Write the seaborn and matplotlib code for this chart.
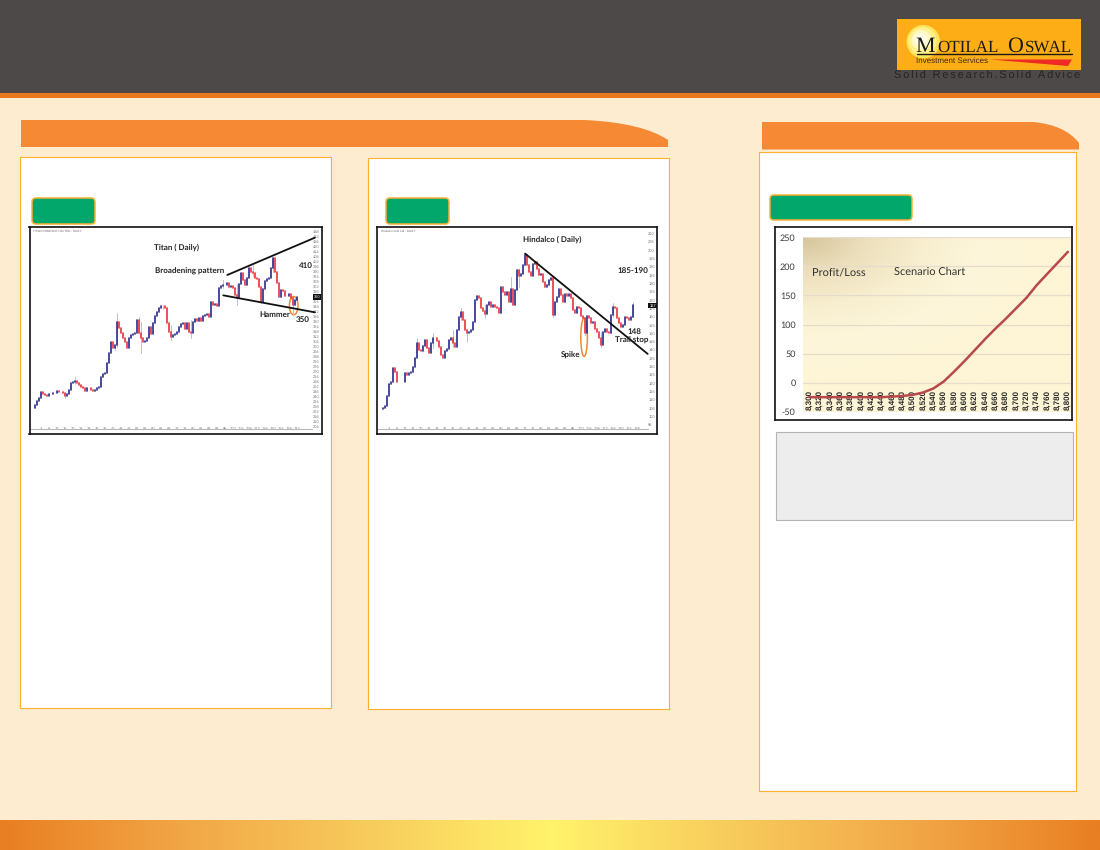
import numpy as np
import pandas as pd
import matplotlib
matplotlib.use("Agg")
import matplotlib.pyplot as plt
from matplotlib.colors import LinearSegmentedColormap
from matplotlib.patches import Rectangle, FancyBboxPatch, Ellipse, Circle, Polygon, PathPatch
from matplotlib.path import Path
import seaborn as sns

# Titan daily closes
titan_close = [226, 230, 235, 238, 246, 243, 242, 241, 243, 243, 244, 245, 247, 246, 246, 245, 241, 243, 248, 257,
               258, 259, 257, 254, 252, 250, 247, 250, 251, 248, 247, 248, 250, 252, 264, 267, 269, 280, 292, 306,
               299, 302, 330, 322, 316, 311, 306, 299, 310, 314, 315, 316, 332, 316, 310, 306, 307, 310, 324, 315,
               328, 337, 342, 347, 349, 349, 346, 328, 318, 312, 314, 315, 318, 324, 327, 328, 321, 329, 318, 316,
               330, 333, 331, 334, 331, 337, 338, 339, 336, 354, 350, 351, 349, 370, 373, 374, 374, 376, 372, 373,
               370, 362, 358, 375, 388, 380, 374, 382, 394, 390, 388, 383, 381, 372, 354, 369, 379, 381, 383, 394,
               406, 390, 376, 360, 368, 367, 361, 361, 363, 358, 350, 356, 360]
titan_wick_bar = [16, 21, 41, 42, 53, 54, 65, 69, 79, 95, 102, 110, 114, 120, 130]
titan_wick_high = [245, 264, 302, 341, 336, 330, 350, 326, 332, 380, 375, 398, 370, 408, 360]
titan_wick_low = [238, 255, 296, 300, 316, 292, 345, 308, 310, 370, 350, 385, 352, 390, 338]
titan_upper = ([97, 140.8], [386, 430.8])
titan_lower = ([95, 140.8], [361.6, 341.2])

# Hindalco daily closes
hindalco_close = [104.4, 105, 106, 112, 119.6, 121, 129, 127, 121, 120.4, 120.4, 121, 126, 125, 126.4, 127, 130, 135,
                  144, 140, 139.4, 142.4, 146, 141, 138, 144, 147, 147, 145.6, 142, 137, 135, 139.6, 140.4, 146, 147,
                  144.4, 142, 152, 160, 163, 158, 152, 150.4, 151, 152, 157, 170, 172.4, 171, 165, 163.6, 161.6, 167,
                  169, 166, 167, 166, 165, 162.4, 178, 175, 173, 175, 169, 176.4, 167, 176, 188, 184.4, 186, 191, 197,
                  191, 187, 184.4, 191.6, 193, 189, 185, 186, 181, 178, 179, 182, 183.6, 161, 169, 172, 176.4, 173,
                  169, 173.6, 172.4, 173.6, 171, 164, 162, 166, 165, 160.4, 159, 150, 160.4, 159, 156, 157, 152.4,
                  151, 147, 143, 151, 152.4, 151, 150, 161, 165.6, 165, 159, 156.4, 154, 155, 159.6, 159, 158, 159.6,
                  167]
hindalco_wick_bar = [18, 26, 36, 40, 43, 52, 65, 69, 72, 86, 102, 110, 116, 126]
hindalco_wick_high = [147, 150, 152, 165, 152, 167, 184, 189, 198, 172, 160, 151, 168, 169]
hindalco_wick_low = [138, 141, 142, 158, 145, 159, 169, 178, 191, 160, 149, 142, 160, 160]
hindalco_trail = ([72.2, 133.5], [198, 137.6])

# Profit/Loss scenario
spot_levels = list(range(8300, 8801, 20))
payoff = [-25, -25, -25, -25, -25, -25, -25, -25, -24, -23, -21, -17, -10,
          2, 19, 37, 56, 75, 93, 110, 128, 146, 168, 187, 206, 225]
payoff_ticks = [-50, 0, 50, 100, 150, 200, 250]

FIG_W, FIG_H = 1100, 850
CREAM = "#feecd0"
AMBER = "#fbb034"
HEAD = "#f68933"
GREEN = "#02a76b"

sns.set_theme(style="white")
plt.rcParams["font.family"] = ["Liberation Sans", "DejaVu Sans"]
plt.rcParams["text.hinting"] = "no_hinting"
plt.rcParams["text.hinting_factor"] = 1

fig = plt.figure(figsize=(11, 8.5), dpi=100, facecolor=CREAM)


def px_axes(left, top, right, bottom, **kw):
    return fig.add_axes([left / FIG_W, 1 - bottom / FIG_H, (right - left) / FIG_W, (bottom - top) / FIG_H], **kw)


bg = px_axes(0, 0, FIG_W, FIG_H)
bg.set_xlim(0, FIG_W)
bg.set_ylim(FIG_H, 0)
bg.axis("off")


def box(ax, x0, y0, x1, y1, **kw):
    ax.add_patch(Rectangle((x0, y0), x1 - x0, y1 - y0, **kw))


# top band
box(bg, 0, 0, FIG_W, 93, fc="#4d4948", ec="none")
box(bg, 0, 93, FIG_W, 98, fc="#e87a1d", ec="none")

# bottom band
band = LinearSegmentedColormap.from_list("band", ["#e87f22", "#f1a747", "#f7cb5c", "#fff36b", "#f7cb5c", "#f1a747", "#e87f22"])
bg.imshow(np.linspace(0, 1, 512)[None, :], extent=(0, FIG_W, 850, 820), cmap=band, aspect="auto", zorder=1)
bg.set_xlim(0, FIG_W)
bg.set_ylim(FIG_H, 0)


def header(x0, x1, flat, y0, y1, bend):
    verts = [(x0, y1), (x0, y0), (flat, y0), (x1 - (x1 - flat) * 0.3, y0 + 3), (x1, bend), (x1, y1), (x0, y1)]
    codes = [Path.MOVETO, Path.LINETO, Path.LINETO, Path.CURVE3, Path.CURVE3, Path.LINETO, Path.CLOSEPOLY]
    bg.add_patch(PathPatch(Path(verts, codes), fc=HEAD, ec="none", zorder=2))


header(21, 668, 585, 120, 147, 140)
header(762, 1079, 1033, 122, 149.5, 143)

# white panels
for x0, y0, x1, y1 in [(19.5, 156.5, 330.5, 707.5), (367.5, 157.5, 668.5, 708.5), (758.5, 151.5, 1075.5, 790.5)]:
    box(bg, x0, y0, x1, y1, fc="white", ec=AMBER, lw=0.8, zorder=2)

# green tags
for x0, y0, x1, y1 in [(32, 198, 95, 224), (386, 198, 449, 224), (770, 195, 912, 220)]:
    bg.add_patch(FancyBboxPatch((x0 + 4, y0 + 4), x1 - x0 - 8, y1 - y0 - 8, boxstyle="round,pad=4", fc=GREEN, ec=AMBER, lw=1.1, zorder=3))

# note box under payoff chart
box(bg, 775.5, 431.5, 1072.5, 519.5, fc="#ecedec", ec="#b5b5b5", lw=0.8, zorder=3)

# logo
box(bg, 897, 19, 1081, 70, fc="#fdae17", ec="none", zorder=3)
for r, c in [(16.7, "#fee45c"), (14, "#fff08a"), (10, "#fff8c4"), (6, "#fffde8")]:
    bg.add_patch(Circle((923.3 - (16.7 - r) * 0.25, 41.7 - (16.7 - r) * 0.25), r, fc=c, ec="none", zorder=4))
for txt, x, size in [("M", 915.5, 16), ("OTILAL", 937, 12.6), ("O", 1007, 16), ("SWAL", 1024.5, 12.6)]:
    bg.text(x, 51.5, txt, family="Liberation Serif", fontsize=size, color="#1c1a16", ha="left", va="baseline", zorder=5)
bg.plot([916.5, 1072], [54.3, 54.3], color="#1c1a16", lw=1, zorder=5)
bg.text(916, 61, "Investment Services", fontsize=6, color="#3a2c12", ha="left", va="center", zorder=5)
bg.add_patch(Polygon([(990, 59.5), (1072, 59.5), (1068, 66)], fc="#ee2a24", ec="none", zorder=5))
bg.text(1080, 76.5, "\u200a\u200a".join("Solid Research.Solid Advice"), fontsize=7.8, color="#26221f", ha="right", va="center", zorder=5)


def candle_chart(ax, close, wick_bar, wick_high, wick_low, xlim, ylim):
    bars = np.arange(len(close))
    opens = [close[0]] + list(close[:-1])
    body = pd.DataFrame({
        "bar": np.r_[bars, bars],
        "price": np.r_[opens, close],
        "side": np.r_[np.array(close) >= np.array(opens), np.array(close) >= np.array(opens)],
    })
    wick = pd.DataFrame({"bar": wick_bar * 2, "price": wick_high + wick_low})
    sns.lineplot(data=wick, x="bar", y="price", units="bar", estimator=None, color="#c4bed0", lw=0.7, ax=ax, legend=False)
    sns.lineplot(data=body, x="bar", y="price", hue="side", units="bar", estimator=None,
                 palette={True: "#2a2a8e", False: "#e8323c"}, lw=1.2, ax=ax, legend=False)
    ax.set_xlim(*xlim)
    ax.set_ylim(*ylim)
    ax.set_xlabel("")
    ax.set_ylabel("")
    for s in ax.spines.values():
        s.set_color("#111111")
        s.set_linewidth(1.2)
        s.set_visible(True)
    ax.yaxis.tick_right()
    ax.tick_params(axis="y", length=0, pad=-6.5, labelsize=2.6, labelcolor="#777777")
    ax.tick_params(axis="x", length=0, pad=-5, labelsize=2.6, labelcolor="#777777")
    ax.set_facecolor("white")


bold = dict(family="Lato", fontsize=5.6, fontweight="bold", color="#222222", zorder=6, va="center")

# Titan chart
ax1 = px_axes(29.5, 227, 322, 434, zorder=5)
candle_chart(ax1, titan_close, titan_wick_bar, titan_wick_high, titan_wick_low, (-1.9, 144.35), (195.2, 443.6))
ax1.set_yticks(list(range(204, 440, 6)))
ax1.set_xticks(list(range(4, 134, 4)))
ax1.plot(titan_upper[0], titan_upper[1], color="#111111", lw=1.3)
ax1.plot(titan_lower[0], titan_lower[1], color="#111111", lw=1.3)
ax1.axhline(201, xmax=0.965, color="#b8b8b8", lw=0.8)
ax1.add_patch(Ellipse((130.2, 349.2), 4.3, 22, fc="none", ec="#ef8a2c", lw=1.1))
ax1.text(0.012, 0.988, "TITAN COMPANY LIMITED - DAILY", transform=ax1.transAxes, fontsize=2.4, color="#666666", va="top")
ax1.text(0.995, 0.662, "360", transform=ax1.transAxes, fontsize=3, color="white", ha="right", va="center",
         bbox=dict(fc="#111111", ec="none", pad=0.6))
for txt, x, y, ha in [("Titan ( Daily)", 176.7, 247, "center"), ("Broadening pattern", 155, 271.7, "left"),
                      ("410", 305.7, 266, "center"), ("Hammer", 275, 315, "center"), ("350", 303, 319.5, "center")]:
    ax1.annotate(txt, (x / FIG_W, 1 - y / FIG_H), xycoords="figure fraction", ha=ha, **bold)

# Hindalco chart
ax2 = px_axes(377.3, 227, 657.3, 434, zorder=5)
candle_chart(ax2, hindalco_close, hindalco_wick_bar, hindalco_wick_high, hindalco_wick_low, (-1.7, 138.3), (89.4, 214))
ax2.set_yticks(list(range(95, 212, 5)))
ax2.set_xticks(list(range(4, 130, 4)))
ax2.plot(hindalco_trail[0], hindalco_trail[1], color="#111111", lw=1.3)
ax2.axhline(92.5, xmax=0.965, color="#b8b8b8", lw=0.8)
ax2.add_patch(Ellipse((101.7, 147.6), 3.3, 23, fc="none", ec="#ef8a2c", lw=1.1))
ax2.text(0.012, 0.988, "Hindalco Inds Ltd - DAILY", transform=ax2.transAxes, fontsize=2.4, color="#666666", va="top")
ax2.text(0.995, 0.62, "167", transform=ax2.transAxes, fontsize=3, color="white", ha="right", va="center",
         bbox=dict(fc="#111111", ec="none", pad=0.6))
for txt, x, y, ha in [("Hindalco ( Daily)", 552.3, 238.7, "center"), ("185-190", 632.7, 271, "center"),
                      ("148", 634.3, 331.3, "center"), ("Trail stop", 631.7, 340.7, "center"), ("Spike", 571, 355.3, "center")]:
    ax2.annotate(txt, (x / FIG_W, 1 - y / FIG_H), xycoords="figure fraction", ha=ha, **bold)

# Payoff chart, white frame first
frame = px_axes(774.7, 226.7, 1071.7, 420, zorder=5)
frame.set_xticks([])
frame.set_yticks([])
frame.set_facecolor("white")
for s in frame.spines.values():
    s.set_color("#111111")
    s.set_linewidth(1.2)
    s.set_visible(True)

ax3 = px_axes(803.3, 237.3, 1071.2, 411.7, zorder=6)
shade = LinearSegmentedColormap.from_list("shade", ["#d6c59c", "#ecdfbc", "#f8efd0", "#fdf6da", "#fdf5d6"])
xx, yy = np.meshgrid(np.linspace(0, 1, 200), np.linspace(0, 1, 200))
ax3.imshow(np.clip(np.hypot(xx * 1.1, yy * 1.25), 0, 1), extent=(8288.4, 8806.4, -50, 250), origin="upper",
           cmap=shade, aspect="auto", zorder=0)
ax3.grid(axis="y", color="#e6dccc", lw=0.9)
ax3.set_axisbelow(True)
sns.lineplot(x=spot_levels, y=payoff, color="#b9484b", lw=1.8, ax=ax3, zorder=4)
ax3.set_xlim(8288.4, 8806.4)
ax3.set_ylim(-50, 250)
ax3.set_yticks(payoff_ticks)
ax3.set_yticklabels([str(v) for v in payoff_ticks], family="Lato")
ax3.set_xticks(spot_levels)
ax3.set_xticklabels([f"{v:,}" for v in spot_levels], rotation=90, fontsize=5.6, fontweight="bold", color="#2b2b2b")
ax3.tick_params(axis="x", length=0, pad=-16)
ax3.tick_params(axis="y", length=0, labelsize=6.8, labelcolor="#3c3c3c", pad=5.5)
for s in ax3.spines.values():
    s.set_visible(False)
for lab in ax3.get_xticklabels():
    lab.set_zorder(5)
ax3.text(8306, 190, "Profit/Loss", family="Lato", fontsize=7.8, color="#333333", va="center", zorder=5)
ax3.text(8464, 190, "Scenario Chart", family="Lato", fontsize=7.8, color="#333333", va="center", zorder=5)

fig.savefig("out.png", dpi=100, facecolor=CREAM)
